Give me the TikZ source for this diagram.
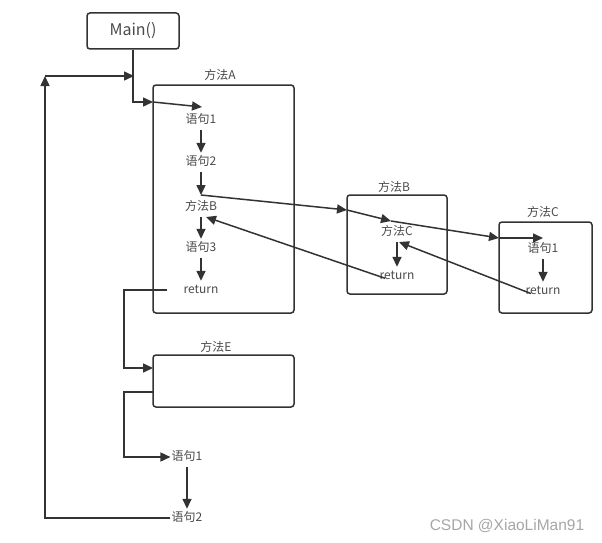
\documentclass[tikz,border=0pt]{standalone}
\usepackage{fontspec}
\setmainfont{Noto Sans CJK SC}
\newfontfamily\wmfont{Liberation Sans}
\usetikzlibrary{arrows.meta}
\definecolor{ink}{HTML}{333333}
\definecolor{txt}{HTML}{4A4A4A}
\tikzset{
  arr/.style={draw=ink, line width=1.5pt, -{Triangle[length=10pt,width=9pt]}},
  box/.style={draw=ink, line width=1.5pt, rounded corners=3pt},
  stmt/.style={text=txt, font=\fontsize{12}{14}\selectfont, inner sep=1pt, text height=8pt, text depth=2pt},
  lbl/.style={text=txt, font=\fontsize{12}{14}\selectfont, inner sep=1pt}
}
\begin{document}
\begin{tikzpicture}[x=1pt, y=-1pt]
    \useasboundingbox (0,0) rectangle (602,543);
    \node[box, minimum width=92pt, minimum height=36pt, text=txt, font=\fontsize{16}{18}\selectfont] (M) at (133,31) {Main()};
    \node[box, minimum width=141pt, minimum height=228pt] (A) at (223.5,199) {};
    \node[box, minimum width=100pt, minimum height=99pt] (B) at (397,244.5) {};
    \node[box, minimum width=93pt, minimum height=91pt] (C) at (545.5,267.5) {};
    \node[box, minimum width=141pt, minimum height=52pt] (E) at (223.5,381) {};
    \node[lbl] (LA) at (220,75) {方法A};
    \node[lbl] (LB) at (394,187) {方法B};
    \node[lbl] (LC) at (543,212) {方法C};
    \node[lbl] (LE) at (216,347) {方法E};
    \node[stmt] (A1) at (201,120) {语句1};
    \node[stmt] (A2) at (201,162) {语句2};
    \node[stmt] (A3) at (201,207) {方法B};
    \node[stmt] (A4) at (201,248) {语句3};
    \node[stmt] (A5) at (201,290) {return};
    \node[stmt] (B1) at (397,232) {方法C};
    \node[stmt] (B2) at (397,276) {return};
    \node[stmt] (C1) at (543,249) {语句1};
    \node[stmt] (C2) at (543,291) {return};
    \node[stmt] (E1) at (187,457) {语句1};
    \node[stmt] (E2) at (187,518) {语句2};
    \node[text=gray!70, font=\wmfont\fontsize{15.5}{17}\selectfont, inner sep=0pt] (W) at (507,526) {CSDN @XiaoLiMan91};
    \coordinate (jA) at (153,102);
    \coordinate (tA) at (202,107);
    \coordinate (tB) at (201,195);
    \coordinate (inB) at (347,210);
    \coordinate (tC) at (391,221);
    \coordinate (inC) at (499,238);
    \coordinate (tC1) at (543,238);
    \coordinate (rB) at (206,217);
    \coordinate (rC) at (399,242);
    \coordinate (outA) at (167,290);
    \coordinate (inE) at (153,368);
    \coordinate (outE) at (153,392);
    \coordinate (lx) at (124,0);
    \coordinate (cL) at (45,76);
    \coordinate (jM) at (134,76);
    \draw[arr] (M.south) |- (jA);
    \draw[arr] (jA) -- (tA);
    \draw[arr, shorten <=4pt, shorten >=3pt] (A1) -- (A2);
    \draw[arr, shorten <=4pt] (A2) -- (tB);
    \draw[arr] (tB) -- (inB);
    \draw[arr] (inB) -- (tC);
    \draw[arr] (tC) -- (inC);
    \draw[arr] (inC) -- (tC1);
    \draw[arr, shorten <=4pt, shorten >=3pt] (A3) -- (A4);
    \draw[arr, shorten <=4pt, shorten >=3pt] (A4) -- (A5);
    \draw[arr, shorten <=4pt, shorten >=3pt] (B1) -- (B2);
    \draw[arr, shorten <=4pt, shorten >=3pt] (C1) -- (C2);
    \draw[arr, shorten <=-7pt] (B2.west) -- (rB);
    \draw[arr, shorten <=-7pt] (C2.west) -- (rC);
    \draw[arr] (outA) -- (outA -| lx) |- (inE);
    \draw[arr] (outE) -- (outE -| lx) |- (E1.west);
    \draw[arr, shorten <=4pt, shorten >=3pt] (E1) -- (E2);
    \draw[arr] (E2.west) -| (cL);
    \draw[arr] (cL) -- (jM);
\end{tikzpicture}
\end{document}
